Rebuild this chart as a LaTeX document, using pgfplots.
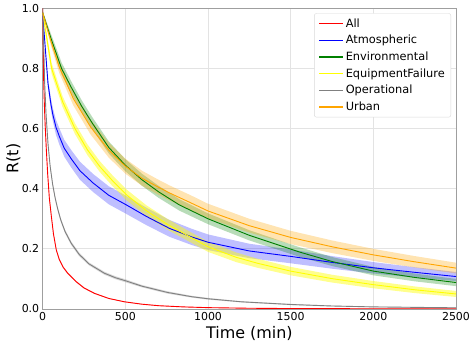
\documentclass[border=0pt]{standalone}
\usepackage{pgfplots}
\pgfplotsset{compat=1.18}
\usepackage{pgfplotstable}
\usepgfplotslibrary{fillbetween}
\usepackage{fontspec}
\setmainfont{DejaVu Sans}

\definecolor{mplred}{rgb}{1,0,0}
\definecolor{mplblue}{rgb}{0,0,1}
\definecolor{mplgreen}{rgb}{0,0.5,0}
\definecolor{mplyellow}{rgb}{1,1,0}
\definecolor{mplgray}{rgb}{0.5,0.5,0.5}
\definecolor{mplorange}{rgb}{1,0.647,0}
\definecolor{legframe}{rgb}{0.85,0.85,0.85}

\pgfplotstableread{
t m lo hi
0 1.000 1.000 1.000
3 0.880 0.876 0.884
6 0.760 0.755 0.765
10 0.680 0.675 0.685
15 0.610 0.605 0.615
22 0.530 0.525 0.535
30 0.450 0.445 0.455
40 0.370 0.366 0.374
52 0.310 0.306 0.314
65 0.250 0.246 0.254
82 0.197 0.194 0.200
100 0.165 0.162 0.168
125 0.138 0.135 0.141
150 0.120 0.117 0.123
172 0.108 0.105 0.111
200 0.092 0.090 0.094
250 0.070 0.068 0.072
313 0.052 0.050 0.054
400 0.035 0.034 0.036
494 0.024 0.023 0.025
600 0.016 0.015 0.017
700 0.011 0.010 0.012
850 0.007 0.006 0.008
1000 0.0045 0.004 0.005
1250 0.0025 0.002 0.003
1500 0.0015 0.001 0.002
2000 0.0008 0.0005 0.0011
2500 0.0005 0.0003 0.0007
}\tabAll

\pgfplotstableread{
t m lo hi
0 0.980 0.975 0.985
32 0.750 0.735 0.765
50 0.680 0.660 0.700
62 0.645 0.623 0.667
80 0.605 0.580 0.630
100 0.575 0.548 0.602
130 0.535 0.507 0.563
172 0.500 0.471 0.529
225 0.460 0.430 0.490
305 0.419 0.389 0.449
400 0.378 0.348 0.408
500 0.348 0.318 0.378
627 0.308 0.279 0.337
767 0.268 0.240 0.296
900 0.240 0.213 0.267
1000 0.222 0.196 0.248
1250 0.193 0.169 0.217
1500 0.175 0.152 0.198
1750 0.155 0.134 0.176
2000 0.137 0.118 0.156
2250 0.122 0.105 0.139
2500 0.108 0.093 0.123
}\tabAtm

\pgfplotstableread{
t m lo hi
0 0.985 0.980 0.990
50 0.900 0.885 0.915
114 0.800 0.780 0.820
170 0.740 0.720 0.760
235 0.675 0.655 0.695
300 0.618 0.598 0.638
400 0.537 0.517 0.557
500 0.478 0.458 0.498
600 0.430 0.410 0.450
700 0.390 0.370 0.410
827 0.346 0.327 0.365
1000 0.300 0.282 0.318
1250 0.245 0.228 0.262
1550 0.190 0.174 0.206
1750 0.158 0.143 0.173
2000 0.126 0.112 0.140
2250 0.105 0.092 0.118
2500 0.088 0.076 0.100
}\tabEnv

\pgfplotstableread{
t m lo hi
0 0.985 0.980 0.990
25 0.900 0.885 0.915
54 0.800 0.782 0.818
120 0.690 0.672 0.708
195 0.600 0.582 0.618
270 0.530 0.512 0.548
345 0.474 0.456 0.492
420 0.428 0.410 0.446
506 0.380 0.362 0.398
627 0.327 0.309 0.345
750 0.283 0.265 0.301
900 0.237 0.220 0.254
1000 0.207 0.190 0.224
1170 0.172 0.156 0.188
1300 0.152 0.137 0.167
1500 0.126 0.112 0.140
1750 0.101 0.088 0.114
2000 0.081 0.069 0.093
2250 0.064 0.053 0.075
2500 0.050 0.040 0.060
}\tabEqu

\pgfplotstableread{
t m lo hi
0 1.000 1.000 1.000
5 0.900 0.894 0.906
12 0.750 0.744 0.756
20 0.650 0.644 0.656
32 0.550 0.544 0.556
45 0.475 0.469 0.481
60 0.415 0.409 0.421
75 0.370 0.364 0.376
92 0.330 0.324 0.336
110 0.295 0.289 0.301
135 0.258 0.252 0.264
172 0.219 0.213 0.225
220 0.182 0.176 0.188
280 0.150 0.145 0.155
373 0.119 0.114 0.124
440 0.104 0.099 0.109
500 0.094 0.089 0.099
600 0.076 0.072 0.080
755 0.055 0.051 0.059
900 0.041 0.038 0.044
1000 0.034 0.031 0.037
1200 0.024 0.022 0.026
1500 0.015 0.013 0.017
1750 0.010 0.0085 0.0115
2000 0.007 0.006 0.008
2500 0.004 0.003 0.005
}\tabOpe

\pgfplotstableread{
t m lo hi
0 0.985 0.980 0.990
50 0.890 0.875 0.905
100 0.805 0.785 0.825
185 0.700 0.677 0.723
290 0.605 0.580 0.630
400 0.528 0.503 0.553
500 0.475 0.450 0.500
600 0.435 0.410 0.460
700 0.405 0.380 0.430
767 0.386 0.361 0.411
900 0.352 0.327 0.377
1000 0.326 0.302 0.350
1250 0.277 0.254 0.300
1500 0.238 0.216 0.260
1750 0.207 0.186 0.228
2000 0.180 0.160 0.200
2250 0.157 0.138 0.176
2500 0.136 0.118 0.154
}\tabUrb

\begin{document}
\begin{tikzpicture}
\begin{axis}[
  scale only axis,
  width=413.3bp, height=300.7bp,
  xmin=0, xmax=2500, ymin=0, ymax=1,
  xtick={0,500,1000,1500,2000,2500},
  ytick={0,0.2,0.4,0.6,0.8,1},
  /pgf/number format/assume math mode=true,
  xticklabel style={/pgf/number format/1000 sep={}},
  yticklabel style={/pgf/number format/fixed, /pgf/number format/precision=1, /pgf/number format/fixed zerofill},
  ticklabel style={font=\fontsize{11}{13}\selectfont},
  major tick length=0pt,
  grid=major,
  major grid style={gray!22, line width=0.8bp},
  axis line style={gray!75, line width=1bp},
  xlabel={Time (min)},
  ylabel={R(t)},
  xlabel style={font=\fontsize{16}{19}\selectfont, at={(axis description cs:0.5,0)}, anchor=base, yshift=-29bp},
  ylabel style={font=\fontsize{16}{19}\selectfont, at={(axis description cs:0,0.5)}, anchor=base, rotate=0, yshift=24.4bp},
  legend cell align=left,
  legend style={at={(1,1)}, anchor=north east, xshift=-5bp, yshift=-5bp,
    font=\fontsize{11.4}{13.5}\selectfont, draw=legframe, rounded corners=2bp,
    fill=white, row sep=2.6bp,
    inner xsep=4bp, inner ysep=3bp},
  legend image code/.code={\draw[#1, line width=1.4bp, rounded corners=0pt] (0bp,0bp) -- (24bp,0bp);},
]
% All
\addplot[draw=none, name path=r1, forget plot] table[x=t,y=lo]{\tabAll};
\addplot[draw=none, name path=r2, forget plot] table[x=t,y=hi]{\tabAll};
\addplot[fill=mplred, fill opacity=0.3, draw=none, forget plot] fill between[of=r1 and r2];
\addplot[draw=mplred, color=mplred, line width=0.9bp] table[x=t,y=m]{\tabAll};
\addlegendentry{All}
% Atmospheric
\addplot[draw=none, name path=b1, forget plot] table[x=t,y=lo]{\tabAtm};
\addplot[draw=none, name path=b2, forget plot] table[x=t,y=hi]{\tabAtm};
\addplot[fill=mplblue, fill opacity=0.25, draw=none, forget plot] fill between[of=b1 and b2];
\addplot[draw=mplblue, color=mplblue, line width=0.9bp] table[x=t,y=m]{\tabAtm};
\addlegendentry{Atmospheric}
% Environmental
\addplot[draw=none, name path=g1, forget plot] table[x=t,y=lo]{\tabEnv};
\addplot[draw=none, name path=g2, forget plot] table[x=t,y=hi]{\tabEnv};
\addplot[fill=mplgreen, fill opacity=0.28, draw=none, forget plot] fill between[of=g1 and g2];
\addplot[draw=mplgreen, color=mplgreen, line width=0.9bp] table[x=t,y=m]{\tabEnv};
\addlegendentry{Environmental}
% EquipmentFailure
\addplot[draw=none, name path=y1, forget plot] table[x=t,y=lo]{\tabEqu};
\addplot[draw=none, name path=y2, forget plot] table[x=t,y=hi]{\tabEqu};
\addplot[fill=mplyellow, fill opacity=0.45, draw=none, forget plot] fill between[of=y1 and y2];
\addplot[draw=mplyellow, color=mplyellow, line width=0.9bp] table[x=t,y=m]{\tabEqu};
\addlegendentry{EquipmentFailure}
% Operational
\addplot[draw=none, name path=o1, forget plot] table[x=t,y=lo]{\tabOpe};
\addplot[draw=none, name path=o2, forget plot] table[x=t,y=hi]{\tabOpe};
\addplot[fill=mplgray, fill opacity=0.3, draw=none, forget plot] fill between[of=o1 and o2];
\addplot[draw=mplgray, color=mplgray, line width=0.9bp] table[x=t,y=m]{\tabOpe};
\addlegendentry{Operational}
% Urban
\addplot[draw=none, name path=u1, forget plot] table[x=t,y=lo]{\tabUrb};
\addplot[draw=none, name path=u2, forget plot] table[x=t,y=hi]{\tabUrb};
\addplot[fill=mplorange, fill opacity=0.3, draw=none, forget plot] fill between[of=u1 and u2];
\addplot[draw=mplorange, color=mplorange, line width=0.9bp] table[x=t,y=m]{\tabUrb};
\addlegendentry{Urban}
\end{axis}
\pgfresetboundingbox
\path (-42.7bp,-36bp) rectangle (431.3bp,309bp);
\end{tikzpicture}
\end{document}
